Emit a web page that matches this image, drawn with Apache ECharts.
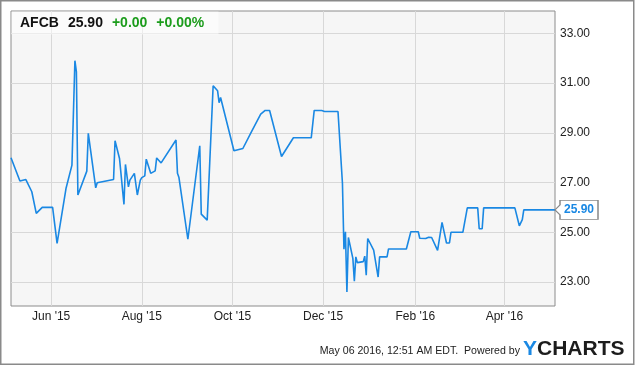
<!DOCTYPE html>
<html>
<head>
<meta charset="utf-8">
<script src="https://cdn.jsdelivr.net/npm/echarts@6/dist/echarts.min.js"></script>
<style>
html,body{margin:0;padding:0;background:#fff;}
#chart{width:635px;height:366px;}
</style>
</head>
<body>
<div id="chart"></div>
<script>
const dates = [
'2015-05-05','2015-05-11','2015-05-15','2015-05-19','2015-05-22','2015-05-26','2015-06-02','2015-06-05','2015-06-11','2015-06-15',
'2015-06-17','2015-06-18','2015-06-19','2015-06-25','2015-06-26','2015-07-01','2015-07-02','2015-07-13','2015-07-14','2015-07-17',
'2015-07-20','2015-07-21','2015-07-23','2015-07-24','2015-07-27','2015-07-29','2015-07-31','2015-08-01','2015-08-03','2015-08-04',
'2015-08-07','2015-08-10','2015-08-11','2015-08-14','2015-08-24','2015-08-25','2015-08-26','2015-08-27','2015-09-01','2015-09-09',
'2015-09-10','2015-09-14','2015-09-18','2015-09-21','2015-09-22','2015-09-23','2015-10-02','2015-10-08','2015-10-14','2015-10-20',
'2015-10-23','2015-10-26','2015-11-03','2015-11-11','2015-11-23','2015-11-25','2015-11-30','2015-12-02','2015-12-11','2015-12-14',
'2015-12-15','2015-12-16','2015-12-17','2015-12-18','2015-12-21','2015-12-22','2015-12-23','2015-12-24','2015-12-28','2015-12-29',
'2015-12-30','2015-12-31','2016-01-04','2016-01-05','2016-01-07','2016-01-08','2016-01-13','2016-01-14','2016-01-26','2016-01-27',
'2016-01-29','2016-02-03','2016-02-04','2016-02-08','2016-02-09','2016-02-10','2016-02-12','2016-02-16','2016-02-17','2016-02-19',
'2016-02-22','2016-02-24','2016-02-25','2016-03-04','2016-03-07','2016-03-14','2016-03-15','2016-03-17','2016-03-18','2016-04-08',
'2016-04-11','2016-04-13','2016-04-14','2016-05-05'
];
const prices = [
28.00,27.06,27.12,26.63,25.76,26.00,26.00,24.55,26.76,27.70,
31.90,31.45,26.50,27.46,28.98,26.79,26.99,27.12,28.68,27.97,
26.12,27.73,26.83,27.10,27.37,26.50,27.10,27.20,27.27,27.94,
27.37,27.47,27.99,27.79,28.71,27.37,27.20,27.27,24.72,28.48,
25.73,25.49,30.89,30.69,30.21,30.42,28.28,28.37,29.07,29.75,
29.90,29.90,28.05,28.80,28.80,29.90,29.90,29.86,29.86,26.96,
24.32,25.02,22.60,24.79,23.95,23.03,24.01,23.78,23.82,24.04,
23.27,24.75,24.28,24.20,23.20,24.01,24.01,24.33,24.33,24.25,
25.02,25.02,24.76,24.75,24.71,24.80,24.79,24.27,24.27,25.40,
24.57,24.57,25.00,25.00,25.98,25.98,25.14,25.14,25.98,25.98,
25.26,25.51,25.90,25.90
];
const yTicks = [23, 25, 27, 29, 31, 33];
const xTickDates = ['2015-06-01','2015-08-01','2015-10-01','2015-12-01','2016-02-01','2016-04-01'];
const monthNames = ['Jan','Feb','Mar','Apr','May','Jun','Jul','Aug','Sep','Oct','Nov','Dec'];
const ticker = 'AFCB';
const lastPrice = '25.90';
const change = '+0.00';
const changePct = '+0.00%';
const axisStart = '2015-05-05';
const axisEnd = '2016-05-05';
const footerText = 'May 06 2016, 12:51 AM EDT.  Powered by';

function toTime(s){const p=s.split('-').map(Number);return new Date(p[0],p[1]-1,p[2]).getTime();}

const seriesData = dates.map((d,i)=>[toTime(d), prices[i]]);
const lastIdx = seriesData.length-1;
const FONT = 'Liberation Sans, Arial, sans-serif';
const LINE = '#1a88e3';

const chart = echarts.init(document.getElementById('chart'), null, {renderer:'canvas'});
chart.setOption({
  animation:false,
  backgroundColor:'#ffffff',
  title:{
    left:15, top:10, padding:5,
    text:'{a|'+ticker+'}{s| }{a|'+lastPrice+'}{s| }{g|'+change+'}{s| }{g|'+changePct+'}',
    textStyle:{
      rich:{
        a:{fontFamily:FONT,fontSize:14,fontWeight:'bold',color:'#111',lineHeight:16},
        g:{fontFamily:FONT,fontSize:14,fontWeight:'bold',color:'#1c9c1c',lineHeight:16},
        s:{width:9,fontSize:14,lineHeight:16}
      }
    }
  },
  grid:{left:11, top:11, width:544, height:295, show:true, backgroundColor:'#f6f6f6', borderColor:'#8c8c8c', borderWidth:1, containLabel:false},
  xAxis:{
    type:'value',
    min:toTime(axisStart), max:toTime(axisEnd),
    axisLine:{show:false},
    axisTick:{show:false, customValues:xTickDates.map(toTime)},
    axisLabel:{
      customValues:xTickDates.map(toTime),
      margin:5,
      color:'#222', fontSize:12, fontFamily:FONT,
      formatter:function(v){const d=new Date(v);return monthNames[d.getMonth()]+" '"+String(d.getFullYear()).slice(2);}
    },
    splitLine:{show:true, lineStyle:{color:'#d8d8d8', width:1}}
  },
  yAxis:{
    type:'value', position:'right',
    min:22.035, max:33.9,
    axisLine:{show:false},
    axisTick:{show:false, customValues:yTicks},
    axisLabel:{customValues:yTicks, margin:5, color:'#222', fontSize:12, fontFamily:FONT, formatter:function(v){return v.toFixed(2);}},
    splitLine:{show:true, lineStyle:{color:'#d8d8d8', width:1}}
  },
  series:[{
    type:'line',
    data:seriesData,
    showSymbol:false,
    symbol:'none',
    lineStyle:{color:LINE, width:1.6},
    markPoint:{
      silent:true,
      symbol:'path://M0,9.5 L5,4.5 L5,0 L43,0 L43,19 L5,19 L5,14.5 Z',
      symbolSize:[43,19],
      symbolOffset:[21.5,0],
      itemStyle:{color:'#ffffff', borderColor:'#888', borderWidth:1},
      label:{show:true, position:'inside', offset:[2.5,0], color:LINE, fontWeight:'bold', fontSize:12, fontFamily:FONT,
        formatter:function(p){return Number(p.value).toFixed(2);}},
      data:[{coord:seriesData[lastIdx], value:prices[lastIdx]}]
    }
  }],
  graphic:[
    {type:'rect', shape:{x:11.5,y:11.5,width:207,height:23}, style:{fill:'rgba(255,255,255,0.5)'}, z:5},
    {type:'rect', shape:{x:0.75,y:0.75,width:633,height:363.5}, style:{fill:'none', stroke:'#8a8a8a', lineWidth:1.5}, z:10},
    {type:'text', x:520, y:351, style:{text:footerText, fill:'#222', font:'10.6px '+FONT, textAlign:'right', textVerticalAlign:'middle'}},
    {type:'text', x:523, y:349, style:{
      text:'{y|Y}{c|CHARTS}', textVerticalAlign:'middle',
      rich:{y:{fill:'#1a88e3', font:'bold 21px '+FONT}, c:{fill:'#1c1c1c', font:'bold 21px '+FONT}}
    }}
  ]
});
</script>
</body>
</html>
